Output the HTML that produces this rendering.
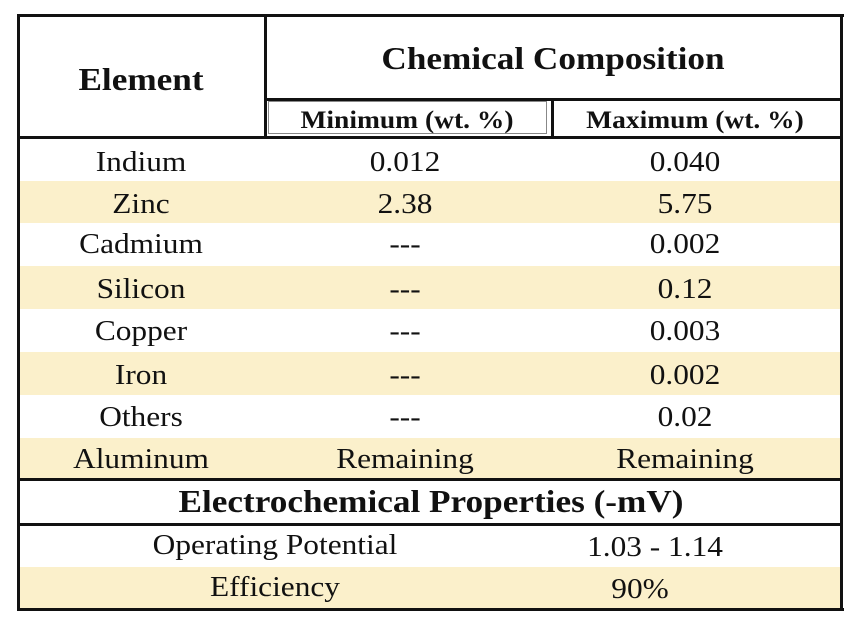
<!DOCTYPE html>
<html><head><style>
body{margin:0;width:861px;height:628px;background:#fff;position:relative;overflow:hidden;font-family:"Liberation Serif",serif;color:#111}
.a{position:absolute}
.band{position:absolute;left:19px;width:822px;background:#fbf0cb}
.t{position:absolute;transform:translateX(-50%) scaleX(1.1);white-space:nowrap;font-size:28.5px;line-height:42px;margin-top:2px}
.b{font-weight:bold}
.hl{position:absolute;background:#111;height:3px}
.vl{position:absolute;background:#111;width:3px}
</style></head><body>
<div class="band" style="top:181px;height:42px"></div>
<div class="band" style="top:266px;height:43px"></div>
<div class="band" style="top:352px;height:43px"></div>
<div class="band" style="top:438px;height:41px"></div>
<div class="band" style="top:567px;height:43px"></div>

<div class="hl" style="left:17px;top:14px;width:827px"></div>
<div class="hl" style="left:17px;top:608px;width:827px"></div>
<div class="vl" style="left:17px;top:14px;height:597px"></div>
<div class="vl" style="left:840px;top:14px;height:597px"></div>
<div class="vl" style="left:264px;top:14px;height:125px"></div>
<div class="hl" style="left:264px;top:98px;width:578px"></div>
<div class="hl" style="left:17px;top:136px;width:825px"></div>
<div class="vl" style="left:551px;top:99px;height:39px"></div>
<div class="a" style="left:268px;top:101px;width:279px;height:33px;border:1px solid #888;box-sizing:border-box"></div>
<div class="hl" style="left:17px;top:478px;width:825px"></div>
<div class="hl" style="left:17px;top:523px;width:825px"></div>

<div class="t b" style="left:141px;top:56px;font-size:32px">Element</div>
<div class="t b" style="left:553px;top:35px;font-size:32px">Chemical Composition</div>
<div class="t b" style="left:407px;top:99px;font-size:25px;line-height:40px">Minimum (wt. %)</div>
<div class="t b" style="left:695px;top:99px;font-size:25px;line-height:40px">Maximum (wt. %)</div>

<div class="t" style="left:141px;top:140px">Indium</div><div class="t" style="left:405px;top:140px">0.012</div><div class="t" style="left:685px;top:140px">0.040</div>
<div class="t" style="left:141px;top:182px">Zinc</div><div class="t" style="left:405px;top:182px">2.38</div><div class="t" style="left:685px;top:182px">5.75</div>
<div class="t" style="left:141px;top:222px">Cadmium</div><div class="t" style="left:405px;top:222px">---</div><div class="t" style="left:685px;top:222px">0.002</div>
<div class="t" style="left:141px;top:267px">Silicon</div><div class="t" style="left:405px;top:267px">---</div><div class="t" style="left:685px;top:267px">0.12</div>
<div class="t" style="left:141px;top:309px">Copper</div><div class="t" style="left:405px;top:309px">---</div><div class="t" style="left:685px;top:309px">0.003</div>
<div class="t" style="left:141px;top:353px">Iron</div><div class="t" style="left:405px;top:353px">---</div><div class="t" style="left:685px;top:353px">0.002</div>
<div class="t" style="left:141px;top:395px">Others</div><div class="t" style="left:405px;top:395px">---</div><div class="t" style="left:685px;top:395px">0.02</div>
<div class="t" style="left:141px;top:437px">Aluminum</div><div class="t" style="left:405px;top:437px">Remaining</div><div class="t" style="left:685px;top:437px">Remaining</div>

<div class="t b" style="left:431px;top:478px;font-size:32px">Electrochemical Properties (-mV)</div>
<div class="t" style="left:275px;top:523px">Operating Potential</div><div class="t" style="left:655px;top:525px">1.03 - 1.14</div>
<div class="t" style="left:275px;top:565px">Efficiency</div><div class="t" style="left:640px;top:567px">90%</div>
</body></html>
